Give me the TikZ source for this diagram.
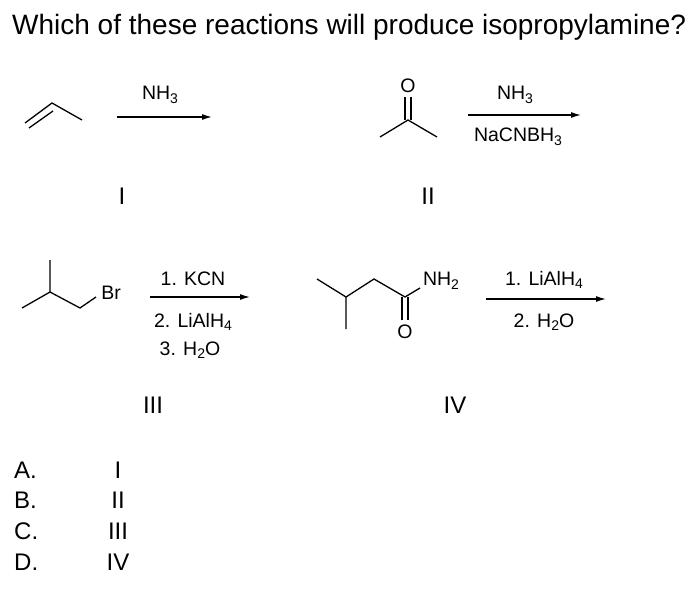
\documentclass[tikz,border=0pt]{standalone}
\usepackage{fontspec}
\setmainfont{Liberation Sans}
\usetikzlibrary{calc,arrows.meta}
\newcommand{\chsub}[1]{\raisebox{-0.35ex}{\fontsize{14}{16}\selectfont #1}}
\begin{document}
\begin{tikzpicture}[x=1pt,y=-1pt,
  bond/.style={line width=1.3pt},
  rxn/.style={line width=1.3pt,-{Latex[length=10pt,width=6pt]}},
  lab/.style={font=\fontsize{19.5}{22}\selectfont,inner sep=0pt},
  big/.style={font=\fontsize{24}{28}\selectfont,inner sep=0pt}]
\useasboundingbox (0,0) rectangle (700,588);
\node[font=\fontsize{28}{32}\selectfont,anchor=west,inner sep=0pt] (title) at (12,27) {Which of these reactions will produce isopropylamine?};
% propene
\coordinate (p1) at (25,123); \coordinate (p2) at (52,103); \coordinate (p3) at (82,120);
\draw[bond] (p1)--(p2)--(p3);
\draw[bond] ($(p1)+(4,5)$)--($(p2)+(1,8)$);
% arrow I
\coordinate (a1s) at (117,117); \coordinate (a1e) at (212,117);
\draw[rxn] (a1s)--(a1e);
\node[lab] (nh3a) at (160,95) {NH\chsub{3}};
\node[big] (lI) at (122,196) {I};
% acetone
\coordinate (c0) at (408,120); \coordinate (cl) at (380,137); \coordinate (cr) at (437,137);
\node[lab] (o1) at (408,86) {O};
\draw[bond] (cl)--(c0)--(cr);
\draw[bond] (405,120)--(405,97) (411,120)--(411,97);
\coordinate (a2s) at (468,115); \coordinate (a2e) at (581,115);
\draw[rxn] (a2s)--(a2e);
\node[lab] (nh3b) at (515,95) {NH\chsub{3}};
\node[lab] (nacn) at (518,137) {NaCNBH\chsub{3}};
\node[big] (lII) at (428,196) {II};
% isobutyl bromide
\coordinate (b1) at (50,260); \coordinate (b2) at (50,292); \coordinate (b3) at (22,308);
\coordinate (b4) at (80,308); \coordinate (b5) at (96,297);
\draw[bond] (b1)--(b2)--(b3) (b2)--(b4)--(b5);
\node[lab] (br) at (111,293) {Br};
\coordinate (a3s) at (150,297); \coordinate (a3e) at (250,297);
\draw[rxn] (a3s)--(a3e);
\node[lab] (kcn) at (193,279) {1. KCN};
\node[lab] (lah1) at (193,322) {2. LiAlH\chsub{4}};
\node[lab] (h2o1) at (190,350) {3. H\chsub{2}O};
\node[big] (lIII) at (153,405) {III};
% amide
\coordinate (m1) at (317,279); \coordinate (m2) at (346,297); \coordinate (m3) at (346,329);
\coordinate (m4) at (374,279); \coordinate (m5) at (405,297); \coordinate (m6) at (420,288);
\draw[bond] (m1)--(m2)--(m3) (m2)--(m4)--(m5)--(m6);
\draw[bond] (402,297)--(402,320) (408,297)--(408,320);
\node[lab] (o2) at (405,332) {O};
\node[lab] (nh2) at (441,281) {NH\chsub{2}};
\coordinate (a4s) at (486,299); \coordinate (a4e) at (606,299);
\draw[rxn] (a4s)--(a4e);
\node[lab] (lah2) at (544,280) {1. LiAlH\chsub{4}};
\node[lab] (h2o2) at (544,322) {2. H\chsub{2}O};
\node[big] (lIV) at (455,405) {IV};
% answers
\foreach \L/\R/\y in {A/I/470,B/II/500,C/III/531,D/IV/562}{
  \node[big,anchor=west] (opt\L) at (14,\y) {\L.};
  \node[big] (ans\L) at (118,\y) {\R};
}
\end{tikzpicture}
\end{document}
